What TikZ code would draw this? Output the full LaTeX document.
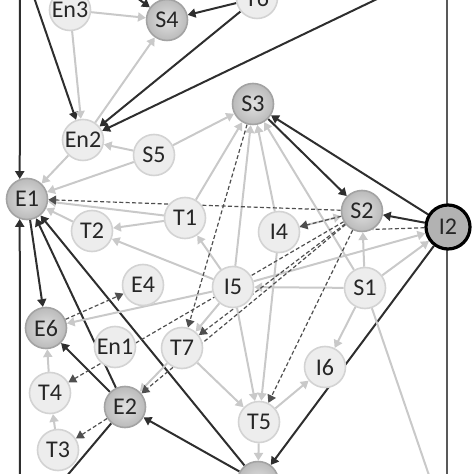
\documentclass[tikz,border=0pt]{standalone}
\usepackage{fontspec}
\setmainfont{Carlito}
\usetikzlibrary{arrows.meta}
\usetikzlibrary{backgrounds}

\definecolor{litefill}{HTML}{EDEDED}
\definecolor{litedraw}{HTML}{D3D3D3}
\definecolor{darkfill}{HTML}{C9C9C9}
\definecolor{darkdraw}{HTML}{A3A3A3}
\definecolor{liteedge}{HTML}{C9C9C9}
\definecolor{darkedge}{HTML}{2E2E2E}
\definecolor{dashcol}{HTML}{4F4F4F}

\begin{document}
\begin{tikzpicture}[x=0.5pt,y=-0.5pt,
        litenode/.style={circle,draw=litedraw,fill=litefill,line width=0.8pt,minimum size=20.5pt,inner sep=0pt,text=black!85,font=\fontsize{12}{12}\selectfont},
        darknode/.style={litenode,draw=darkdraw,inner color=black!12,outer color=black!27},
        litearrow/.style={liteedge,line width=1pt,arrows = -{Triangle[angle=60:4.5pt,fill = liteedge]}},
        darkarrow/.style={darkedge,line width=1pt,arrows = -{Triangle[angle=60:4.5pt,fill = darkedge]}},
        dasharrow/.style={dashcol,line width=0.6pt,dash pattern=on 2pt off 1.2pt,arrows = -{Triangle[angle=60:4.5pt,fill = dashcol]}}]

            \useasboundingbox (0,0) rectangle (474,474);

            \path   (70,10)   node (en3) [litenode] {En3}
                    (167,20)  node (s4)  [darknode] {S4}
                    (257,-2)  node (t6)  [litenode] {T6}
                    (83,140)  node (en2) [litenode] {En2}
                    (154,155) node (s5)  [litenode] {S5}
                    (253,104) node (s3)  [darknode] {S3}
                    (362,211) node (s2)  [darknode] {S2}
                    (448,227) node (i2)  [litenode,draw=black,line width=1.6pt,fill=black!30,minimum size=22pt] {I2}
                    (27,199)  node (e1)  [darknode] {E1}
                    (185,218) node (t1)  [litenode] {T1}
                    (92,231)  node (t2)  [litenode] {T2}
                    (279,232) node (i4)  [litenode] {I4}
                    (143,285) node (e4)  [litenode] {E4}
                    (233,287) node (i5)  [litenode] {I5}
                    (365,288) node (s1)  [litenode] {S1}
                    (46,328)  node (e6)  [darknode] {E6}
                    (115,347) node (en1) [litenode] {En1}
                    (182,348) node (t7)  [litenode] {T7}
                    (325,367) node (i6)  [litenode] {I6}
                    (50,393)  node (t4)  [litenode] {T4}
                    (125,407) node (e2)  [darknode] {E2}
                    (259,422) node (t5)  [litenode] {T5}
                    (58,450)  node (t3)  [litenode] {T3}
                    (258,482) node (cut) [darknode] {};

            % ends of lines that leave the picture
            \coordinate (up1) at (28,-20);
            \coordinate (up2) at (110,-22);
            \coordinate (up3) at (400,-12);
            \coordinate (upl) at (20,-20);
            \coordinate (lol) at (20,490);
            \coordinate (upr) at (447,-20);
            \coordinate (lor) at (447,490);
            \coordinate (lo1) at (55,490);
            \coordinate (lo2) at (434,490);

        \begin{scope}[on background layer]
            % dark arrows
            \draw[darkarrow] (up1) -- (node cs:name=en2);
            \draw[darkarrow] (up2) -- (node cs:name=s4);
            \draw[darkarrow] (node cs:name=t6) -- (node cs:name=s4);
            \draw[darkarrow] (node cs:name=t6) -- (node cs:name=en2);
            \draw[darkarrow] (up3) -- (node cs:name=en2);
            \draw[darkarrow] (upl) -- (e1.110);
            \draw[darkarrow] (lol) -- (e1.250);
            \draw[darkarrow] (node cs:name=e1) -- (node cs:name=e6);
            \draw[darkarrow] (node cs:name=e2) -- (node cs:name=e1);
            \draw[darkarrow] (node cs:name=cut) -- (node cs:name=e1);
            \draw[darkarrow] (node cs:name=e2) -- (node cs:name=e6);
            \draw[darkedge,line width=1pt] (node cs:name=e2) -- (lo1);
            \draw[darkarrow] (node cs:name=cut) -- (node cs:name=e2);
            \draw[darkarrow] (node cs:name=s3) -- (node cs:name=s2);
            \draw[darkarrow] (node cs:name=i2) -- (node cs:name=s3);
            \draw[darkarrow] (node cs:name=i2) -- (node cs:name=s2);
            \draw[darkarrow] (node cs:name=i2) -- (node cs:name=cut);
            \draw[black!65,line width=1pt] (upr) -- (lor);

            % light arrows
            \draw[litearrow] (node cs:name=en3) -- (node cs:name=s4);
            \draw[litearrow] (node cs:name=en3) -- (node cs:name=en2);
            \draw[litearrow] (node cs:name=en2) -- (node cs:name=s4);
            \draw[litearrow] (node cs:name=s5) -- (node cs:name=en2);
            \draw[litearrow] (node cs:name=s5) -- (node cs:name=s3);
            \draw[litearrow] (node cs:name=en2) -- (node cs:name=e1);
            \draw[litearrow] (node cs:name=s5) -- (node cs:name=e1);
            \draw[litearrow] (node cs:name=t1) -- (node cs:name=e1);
            \draw[litearrow] (node cs:name=t2) -- (node cs:name=e1);
            \draw[litearrow] (node cs:name=t1) -- (node cs:name=t2);
            \draw[litearrow] (node cs:name=i5) -- (node cs:name=t2);
            \draw[litearrow] (node cs:name=i5) -- (node cs:name=t1);
            \draw[litearrow] (node cs:name=t1) -- (node cs:name=s3);
            \draw[litearrow] (node cs:name=i5) -- (node cs:name=s3);
            \draw[litearrow] (node cs:name=i4) -- (node cs:name=s3);
            \draw[litearrow] (node cs:name=s1) -- (node cs:name=s3);
            \draw[litearrow] (node cs:name=i4) -- (node cs:name=s2);
            \draw[litearrow] (node cs:name=s1) -- (node cs:name=s2);
            \draw[litearrow] (node cs:name=s1) -- (node cs:name=i2);
            \draw[litearrow] (node cs:name=i5) -- (node cs:name=i2);
            \draw[litearrow] (node cs:name=s1) -- (node cs:name=i5);
            \draw[litearrow] (node cs:name=s1) -- (node cs:name=i6);
            \draw[liteedge,line width=1pt] (node cs:name=s1) -- (lo2);
            \draw[litearrow] (node cs:name=i5) -- (node cs:name=e6);
            \draw[litearrow] (node cs:name=t3) -- (node cs:name=t4);
            \draw[litearrow] (node cs:name=t4) -- (node cs:name=e6);
            \draw[litearrow] (node cs:name=i5) -- (node cs:name=t7);
            \draw[litearrow] (node cs:name=t7) -- (node cs:name=e2);
            \draw[litearrow] (node cs:name=t7) -- (node cs:name=t5);
            \draw[litearrow] (node cs:name=i5) -- (node cs:name=t5);
            \draw[litearrow] (node cs:name=i4) -- (node cs:name=t5);
            \draw[litearrow] (node cs:name=t5) -- (node cs:name=i6);
            \draw[litearrow] (node cs:name=t5) -- (node cs:name=cut);

            % dashed arrows
            \draw[dasharrow] (node cs:name=s2) -- (node cs:name=e1);
            \draw[dashcol,line width=0.6pt,dash pattern=on 2pt off 1.2pt] (node cs:name=i2) -- (s2.-60);
            \draw[dasharrow] (node cs:name=s2) -- (node cs:name=i4);
            \draw[dasharrow] (node cs:name=s2) -- (node cs:name=t7);
            \draw[dasharrow] (node cs:name=s2) -- (node cs:name=t5);
            \draw[dasharrow] (node cs:name=s2) -- (node cs:name=t4);
            \draw[dasharrow] (node cs:name=s2) -- (node cs:name=e2);
            \draw[dasharrow] (node cs:name=e6) -- (node cs:name=e4);
            \draw[dasharrow] (node cs:name=s3) -- (node cs:name=t7);
            \draw[dasharrow] (node cs:name=e2) -- (node cs:name=t3);
        \end{scope}

        \end{tikzpicture}
\end{document}
